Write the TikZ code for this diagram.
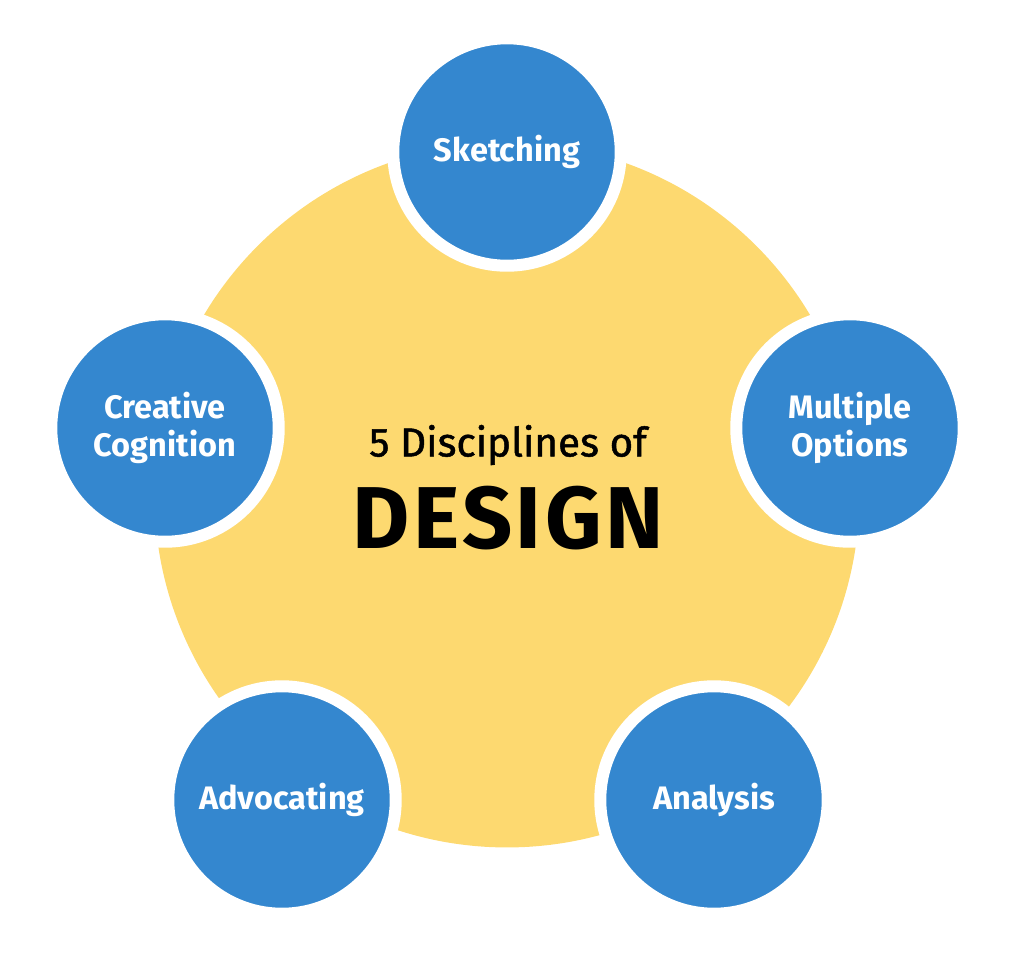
\documentclass[tikz,border=0pt]{standalone}
\usepackage{fontspec}
\setmainfont{Fira Sans}
\definecolor{sunyellow}{HTML}{FDD970}
\definecolor{discblue}{HTML}{3487CF}
\begin{document}
\begin{tikzpicture}[x=0.02cm, y=-0.02cm,
    disc/.style={circle, draw=white, line width=2.4mm, fill=discblue, minimum size=4.55cm,
      text=white, font=\bfseries\fontsize{18.5}{22}\selectfont, align=center}]
        \useasboundingbox (0,0) rectangle (1024,967);
        % Core
        \node[circle, fill=sunyellow, minimum size=14.1cm] (core) at (507,495) {};
        \node[font=\fontsize{23}{26}\selectfont\addfontfeature{FakeBold=1.2}, align=center] (title) at (508,445) {5 Disciplines of};
        \node[font=\bfseries\fontsize{50}{54}\selectfont\addfontfeature{LetterSpace=4}] (design) at (508,518) {DESIGN};

        % Disciplines
        \node[disc] (sketching) at (507,152) {Sketching};
        \node[disc] (options) at (850,428) {Multiple\\Options};
        \node[disc] (creative) at (165,428) {Creative\\Cognition};
        \node[disc] (advocating) at (282,800) {Advocating};
        \node[disc] (analysis) at (714,800) {Analysis};
    \end{tikzpicture}
\end{document}
